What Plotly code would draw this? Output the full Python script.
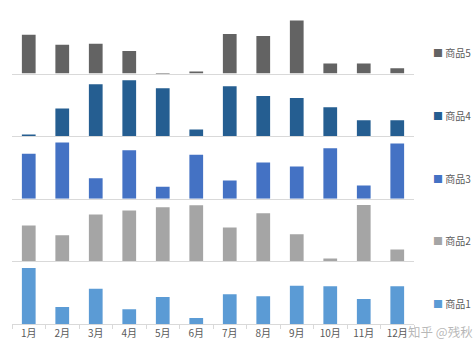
import plotly.graph_objects as go
from plotly.subplots import make_subplots

months = ["1月", "2月", "3月", "4月", "5月", "6月", "7月", "8月", "9月", "10月", "11月", "12月"]
series_names = ["商品5", "商品4", "商品3", "商品2", "商品1"]
colors = ["#636363", "#255E91", "#4472C4", "#A5A5A5", "#5B9BD5"]

p5 = [39, 29, 30, 22.6, 0.5, 2, 39.6, 37.6, 53.3, 10, 10, 5.3]
p4 = [1, 27.7, 52, 56, 48, 6.7, 50, 40.3, 38.3, 29, 16, 16]
p3 = [45, 56.3, 20.6, 48.6, 12, 44, 18.3, 36.3, 32.3, 50.6, 13.3, 55.3]
p2 = [36, 26.3, 47, 51, 54.3, 56.3, 34, 48.3, 27.3, 3, 56.6, 12]
p1 = [56, 17, 35.3, 14.7, 27, 6, 29.7, 27.7, 38.3, 37.7, 25, 37.7]
values = [p5, p4, p3, p2, p1]

fig = make_subplots(rows=5, cols=1, shared_xaxes=True, vertical_spacing=0)

for i, (name, col, vals) in enumerate(zip(series_names, colors, values)):
    fig.add_trace(go.Bar(x=months, y=vals, name=name, marker=dict(color=col, line=dict(width=0)),
                         showlegend=False), row=i + 1, col=1)
    fig.update_yaxes(range=[0, 62.7], visible=False, row=i + 1, col=1)
    fig.update_xaxes(showline=True, linecolor="#D9D9D9", linewidth=1, showgrid=False,
                     zeroline=False, row=i + 1, col=1)
    yref = "y" if i == 0 else f"y{i + 1}"
    fig.add_annotation(xref="paper", yref=yref, x=1.042, y=20.7, xanchor="left", yanchor="middle",
                       text=f"<span style='color:{col}'>■</span> {name}", showarrow=False,
                       font=dict(size=10, color="#595959", family="Noto Sans CJK SC"))

fig.update_xaxes(ticks="outside", tickson="boundaries", ticklen=4, tickcolor="#D9D9D9",
                 tickfont=dict(size=10, color="#595959", family="Noto Sans CJK SC"),
                 showticklabels=True, row=5, col=1)

fig.add_annotation(xref="paper", yref="paper", x=1.15, y=-0.025, xanchor="right", yanchor="middle",
                   text="知乎 @残秋", showarrow=False, borderpad=0,
                   font=dict(size=12.5, color="rgba(160,160,160,0.75)", family="Noto Sans CJK SC"))

fig.update_layout(width=474, height=351, margin=dict(l=12, r=60, t=11, b=27),
                  paper_bgcolor="white", plot_bgcolor="white", bargap=0.59)

fig.write_html("out.html")
